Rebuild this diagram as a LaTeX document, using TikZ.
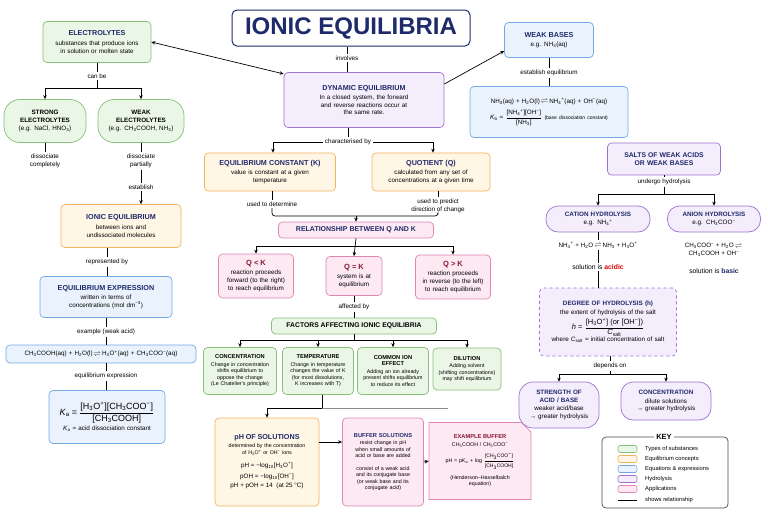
\documentclass[tikz,border=0pt]{standalone}
\usepackage{fontspec}
\usepackage{amsmath}
\setmainfont{Liberation Sans}
\usetikzlibrary{arrows.meta,shapes.misc,calc}
\definecolor{navy}{HTML}{1F2A6B}
\definecolor{gF}{HTML}{EAF6E6}\definecolor{gD}{HTML}{86C079}
\definecolor{oF}{HTML}{FFF6E6}\definecolor{oD}{HTML}{F2B45A}
\definecolor{bF}{HTML}{EAF3FD}\definecolor{bD}{HTML}{74A8E2}
\definecolor{pF}{HTML}{F4EDFB}\definecolor{pD}{HTML}{9D72D2}
\definecolor{kF}{HTML}{FCE9F2}\definecolor{kD}{HTML}{E384B4}
\definecolor{maroon}{HTML}{8A1538}
\newcommand\hd[1]{{\fontsize{7.2}{8.6}\selectfont\bfseries\color{navy}#1}\\[1.5pt]}
\newcommand\hs[1]{{\fontsize{5.7}{7}\selectfont\bfseries #1}\\[1pt]}
\newcommand\hq[1]{{\fontsize{7.5}{9}\selectfont\bfseries\color{maroon}#1}\\[1.5pt]}
\newcommand\sbs[1]{\textsubscript{#1}}
\newcommand\sps[1]{\textsuperscript{#1}}
\newcommand\eqa{\,$\rightleftharpoons$\,}
\newcommand\tfr[2]{$\dfrac{\text{#1}}{\text{#2}}$}
\begin{document}
\begin{tikzpicture}[x=1pt,y=-1pt,
  box/.style={draw,rounded corners=4pt,line width=0.7pt,align=center,inner sep=2pt,font=\fontsize{6.3}{7.8}\selectfont},
  gb/.style={box,fill=gF,draw=gD},
  ob/.style={box,fill=oF,draw=oD},
  bb/.style={box,fill=bF,draw=bD},
  pb/.style={box,fill=pF,draw=pD},
  kb/.style={box,fill=kF,draw=kD},
  sm/.style={font=\fontsize{5.3}{6.5}\selectfont},
  lb/.style={align=center,inner sep=1.5pt,font=\fontsize{6.3}{7.8}\selectfont},
  ln/.style={line width=0.7pt},
  arr/.style={ln,-{Stealth[length=4pt,width=3.5pt]}}]
\useasboundingbox (0,0) rectangle (768,512);
\fill[white] (0,0) rectangle (768,512);
% title
\node[draw=navy,fill=white,rounded corners=5pt,line width=1pt,minimum width=238,minimum height=36,font=\fontsize{24}{25}\selectfont\bfseries\color{navy}] (title) at (351,28) {IONIC EQUILIBRIA};
% left column
\node[gb,minimum width=108,minimum height=41,text width=104] (el) at (97,42) {\hd{ELECTROLYTES}substances that produce ions\\in solution or molten state};
\node[lb] (canbe) at (97,76) {can be};
\node[gb,rounded corners=16pt,minimum width=81,minimum height=43,text width=78] (strong) at (45,121) {\hs{\fontsize{6.3}{7.6}\selectfont STRONG\\ELECTROLYTES}(e.g. NaCl, HNO\sbs3)};
\node[gb,rounded corners=16pt,minimum width=83,minimum height=43,text width=82] (weak) at (141,121) {\hs{\fontsize{6.3}{7.6}\selectfont WEAK\\ELECTROLYTES}(e.g. CH\sbs3COOH, NH\sbs3)};
\node[lb] (dc) at (45,161) {dissociate\\completely};
\node[lb] (dp) at (141,161) {dissociate\\partially};
\node[lb] (est) at (141,187) {establish};
\node[ob,minimum width=120,minimum height=43,text width=116] (ie) at (121,226) {\hd{IONIC EQUILIBRIUM}between ions and\\undissociated molecules};
\node[lb] (rep) at (107,262) {represented by};
\node[bb,minimum width=132,minimum height=41,text width=128] (ee) at (106,297) {\hd{EQUILIBRIUM EXPRESSION}written in terms of\\concentrations (mol dm\sps{−3})};
\node[lb] (exa) at (106,332) {example (weak acid)};
\node[bb,minimum width=188,minimum height=18,text width=186] (eqb) at (101,354) {CH\sbs3COOH(aq) + H\sbs2O(l)\eqa H\sbs3O\sps+(aq) + CH\sbs3COO\sps−(aq)};
\node[lb] (eqe) at (106,376) {equilibrium expression};
\node[bb,minimum width=116,minimum height=53,text width=112] (ka) at (107,417) {{\fontsize{9}{11}\selectfont \textit{K}\sbs{a} = \tfr{[H\sbs3O\sps+][CH\sbs3COO\sps−]}{[CH\sbs3COOH]}}\\[2pt]\textit{K}\sbs{a} = acid dissociation constant};
% centre
\node[lb] (inv) at (347,58) {involves};
\node[pb,minimum width=160,minimum height=55,text width=150] (dyn) at (364,100) {\hd{DYNAMIC EQUILIBRIUM}In a closed system, the forward\\and reverse reactions occur at\\the same rate.};
\node[bb,minimum width=89,minimum height=35,text width=85] (wb) at (549,40) {\hd{WEAK BASES}e.g. NH\sbs3(aq)};
\node[lb] (esq) at (549,73) {establish equilibrium};
\node[bb,minimum width=158,minimum height=51,text width=154] (nh3) at (549,112) {NH\sbs3(aq) + H\sbs2O(l)\eqa NH\sbs4\sps+(aq) + OH\sps−(aq)\\[4pt]
 \textit{K}\sbs{b} = \tfr{[NH\sbs4\sps+][OH\sps−]}{[NH\sbs3]} {\fontsize{5}{6}\selectfont (base dissociation constant)}};
\node[lb] (char) at (348,142) {characterised by};
\node[ob,minimum width=131,minimum height=38,text width=127] (kbox) at (270,172) {\hd{EQUILIBRIUM CONSTANT (K)}value is constant at a given\\temperature};
\node[ob,minimum width=116,minimum height=38,text width=114] (qbox) at (431,172) {\hd{QUOTIENT (Q)}calculated from any set of\\concentrations at a given time};
\node[lb] (utd) at (272,204) {used to determine};
\node[lb] (utp) at (438,206) {used to predict\\direction of change};
\node[kb,minimum width=155,minimum height=16,inner sep=1pt] (rel) at (356,230) {\fontsize{7}{8}\selectfont\bfseries\color{navy}RELATIONSHIP BETWEEN Q AND K};
\node[kb,minimum width=73,minimum height=44,text width=71] (ql) at (256,276) {\hq{Q < K}reaction proceeds\\forward (to the right)\\to reach equilibrium};
\node[kb,minimum width=54,minimum height=39,text width=52] (qe) at (354,276) {\hq{Q = K}system is at\\equilibrium};
\node[kb,minimum width=73,minimum height=44,text width=71] (qg) at (453,277) {\hq{Q > K}reaction proceeds\\in reverse (to the left)\\to reach equilibrium};
\node[lb] (aff) at (354,307) {affected by};
\node[gb,minimum width=165,minimum height=16,inner sep=1pt] (fac) at (354,326) {\fontsize{6.8}{8}\selectfont\bfseries FACTORS AFFECTING IONIC EQUILIBRIA};
\node[gb,sm,minimum width=71,minimum height=47,text width=69] (f1) at (240,371) {\hs{CONCENTRATION}Change in concentration\\shifts equilibrium to\\oppose the change\\(Le Chatelier's principle)};
\node[gb,sm,minimum width=69,minimum height=47,text width=67] (f2) at (318,371) {\hs{TEMPERATURE}Change in temperature\\changes the value of K\\(for most dissolutions,\\K increases with T)};
\node[gb,sm,minimum width=69,minimum height=47,text width=67] (f3) at (393,371) {\hs{COMMON ION\\EFFECT}Adding an ion already\\present shifts equilibrium\\to reduce its effect};
\node[gb,sm,minimum width=66,minimum height=42,text width=64] (f4) at (467,369) {\hs{DILUTION}Adding solvent\\(shifting concentrations)\\may shift equilibrium};
\node[ob,sm,minimum width=102,minimum height=88,text width=100] (ph) at (267,462) {\hd{pH OF SOLUTIONS}determined by the concentration\\of H\sbs3O\sps+ or OH\sps− ions\\[5pt]{\fontsize{6.3}{8}\selectfont pH = −log\sbs{10}[H\sbs3O\sps+]\\[3pt]pOH = −log\sbs{10}[OH\sps−]\\[3pt]pH + pOH = 14\ \ (at 25 °C)}};
\node[kb,sm,minimum width=79,minimum height=88,text width=77] (buf) at (383,462) {\hs{\color{navy}BUFFER SOLUTIONS}resist change in pH\\when small amounts of\\acid or base are added\\[6pt]consist of a weak acid\\and its conjugate base\\(or weak base and its\\conjugate acid)};
\node[chamfered rectangle,chamfered rectangle corners=north east,chamfered rectangle xsep=6pt,draw=kD,fill=kF,line width=0.7pt,align=center,inner sep=2pt,sm,minimum width=90,minimum height=77,text width=86] (exb) at (480,461) {\hs{\color{maroon}EXAMPLE BUFFER}CH\sbs3COOH / CH\sbs3COO\sps−\\[5pt]pH = p\textit{K}\sbs{a} + log {\fontsize{7}{8}\selectfont$\dfrac{\text{\fontsize{5}{6}\selectfont[CH\sbs3COO\sps−]}}{\text{\fontsize{5}{6}\selectfont[CH\sbs3COOH]}}$}\\[5pt](Henderson–Hasselbalch\\equation)};
% right column
\node[pb,minimum width=113,minimum height=32,text width=109] (salt) at (664,159) {{\fontsize{6.8}{8.2}\selectfont\bfseries\color{navy}SALTS OF WEAK ACIDS\\OR WEAK BASES}};
\node[lb] (uh) at (664,182) {undergo hydrolysis};
\node[pb,rounded corners=12pt,minimum width=104,minimum height=26,text width=100] (cat) at (598,219) {\hs{\fontsize{6.3}{7.5}\selectfont\color{navy}CATION HYDROLYSIS}e.g. NH\sbs4\sps+};
\node[pb,rounded corners=12pt,minimum width=91,minimum height=26,text width=89] (ani) at (714,219) {\hs{\fontsize{6.3}{7.5}\selectfont\color{navy}ANION HYDROLYSIS}e.g. CH\sbs3COO\sps−};
\node[lb] (caeq) at (598,245) {NH\sbs4\sps+ + H\sbs2O\eqa NH\sbs3 + H\sbs3O\sps+};
\node[lb] (aneq) at (714,250) {CH\sbs3COO\sps− + H\sbs2O\eqa\\CH\sbs3COOH + OH\sps−};
\node[lb,font=\fontsize{6.8}{8}\selectfont] (acid) at (598,267) {solution is \textbf{\color{red!85!black}acidic}};
\node[lb,font=\fontsize{6.8}{8}\selectfont] (basic) at (714,271) {solution is \textbf{\color{navy}basic}};
\node[pb,dashed,minimum width=137,minimum height=68,text width=133] (deg) at (608,322) {\hd{\fontsize{6.3}{7.5}\selectfont DEGREE OF HYDROLYSIS (h)}the extent of hydrolysis of the salt\\[1pt]{\fontsize{7.5}{9}\selectfont \textit{h} = \tfr{[H\sbs3O\sps+] (or [OH\sps−])}{\textit{C}\sbs{salt}}}\\where \textit{C}\sbs{salt} = initial concentration of salt};
\node[lb] (dep) at (610,366) {depends on};
\node[pb,rounded corners=14pt,minimum width=78,minimum height=46,text width=76] (str) at (559,405) {\hs{\fontsize{6.3}{7.5}\selectfont\color{navy}STRENGTH OF\\ACID / BASE}weaker acid/base\\→ greater hydrolysis};
\node[pb,rounded corners=12pt,minimum width=88,minimum height=38,text width=86] (con) at (666,401) {\hs{\fontsize{6.3}{7.5}\selectfont\color{navy}CONCENTRATION}dilute solutions\\→ greater hydrolysis};
% key
\draw[rounded corners=4pt,line width=0.7pt,draw=black!70] (602,437) rectangle (728,508);
\node[fill=white,font=\fontsize{7.5}{9}\selectfont\bfseries,inner sep=2pt] (key) at (664,437) {KEY};
\foreach \y/\f/\d/\t in {449/gF/gD/Types of substances,459/oF/oD/Equilibrium concepts,469/bF/bD/Equations \& expressions,479/pF/pD/Hydrolysis,489/kF/kD/Applications}{
  \draw[fill=\f,draw=\d,rounded corners=2pt,line width=0.6pt] (618,\y-3.5) rectangle (637,\y+3.5);
  \node[anchor=west,font=\fontsize{5.8}{7}\selectfont,inner sep=0] at (645,\y) {\t};}
\draw[ln] (618,500) -- (637,500);
\node[anchor=west,font=\fontsize{5.8}{7}\selectfont,inner sep=0] at (645,500) {shows relationship};
% connectors
\draw[{Stealth[length=4pt,width=3.5pt]}-{Stealth[length=4pt,width=3.5pt]},ln] (el.east) -- (dyn.162);
\draw[ln] (title.south -| inv) -- (inv.north); \draw[ln] (inv.south) -- (inv.south |- dyn.north);
\draw[arr] (dyn.east |- 0,84) -- (wb.west |- 0,51);
\draw[ln] (wb.south) -- (esq.north); \draw[ln] (esq.south) -- (nh3.north);
\draw[ln] (el.south) -- (canbe.north);
\coordinate (brA) at (97,88);
\draw[ln] (canbe.south) -- (brA);
\draw[arr] (brA) -| (strong.north); \draw[arr] (brA) -| (weak.north);
\draw[ln] (strong.south) -- (dc.north);
\draw[ln] (weak.south) -- (dp.north); \draw[ln] (dp.south) -- (est.north);
\draw[arr] (est.south) -- (est.south |- ie.north);
\draw[ln] (ie.south -| rep) -- (rep.north); \draw[ln] (rep.south) -- (rep.south |- ee.north);
\draw[ln] (ee.south) -- (exa.north); \draw[ln] (exa.south) -- (exa.south |- eqb.north);
\draw[ln] (eqb.south -| eqe) -- (eqe.north); \draw[ln] (eqe.south) -- (eqe.south |- ka.north);
\draw[ln] (dyn.south -| char) -- (char.north);
\draw[arr] (char.west) -| (kbox.north -| 273,0);
\draw[arr] (char.east) -| (qbox.north -| 433,0);
\draw[ln] (kbox.south -| utd) -- (utd.north);
\draw[ln] (qbox.south -| utp) -- (utp.north);
\coordinate (relT) at (356,216);
\draw[ln,rounded corners=3pt] (utd.south) |- (relT); \draw[ln,rounded corners=3pt] (utp.south) |- (relT);
\draw[arr] (relT) -- (rel.north);
\coordinate (relB) at (356,246);
\draw[arr] (rel.south) -- (qe.north);
\draw[arr] (relB) -| (ql.north); \draw[arr] (relB) -| (qg.north);
\draw[ln] (qe.south) -- (aff.north); \draw[ln] (aff.south) -- (aff.south |- fac.north);
\coordinate (facB) at (354,340);
\draw[ln] (fac.south) -- (facB);
\foreach \n in {f1,f2,f3,f4} \draw[arr] (facB) -| (\n.north);
\coordinate (phB) at (322,408);
\draw[ln] (f2.south -| phB) -- (phB);
\draw[line width=0.9pt,draw=black!45] (phB) -- (448,408);
\draw[arr] (phB) -| (ph.north);
\draw[arr] ([yshift=20pt]ph.east) -- ([yshift=20pt]buf.west);
\draw[arr] (buf.east) -- (exb.west);
\draw[ln] (salt.south) -- (uh.north);
\coordinate (uhB) at (664,194);
\draw[ln] (uh.south) -- (uhB);
\draw[arr] (uhB) -| (cat.north); \draw[arr] (uhB) -| (ani.north);
\draw[ln] (cat.south) -- (caeq.north);
\draw[ln] (caeq.south) -- (acid.north);
\draw[ln] (acid.south) -- (deg.north -| acid);
\draw[ln] (deg.south -| dep) -- (dep.north);
\coordinate (depB) at (610,374);
\draw[ln] (dep.south) -- (depB);
\draw[arr] (depB) -| (str.north); \draw[arr] (depB) -| (con.north);
\end{tikzpicture}
\end{document}
